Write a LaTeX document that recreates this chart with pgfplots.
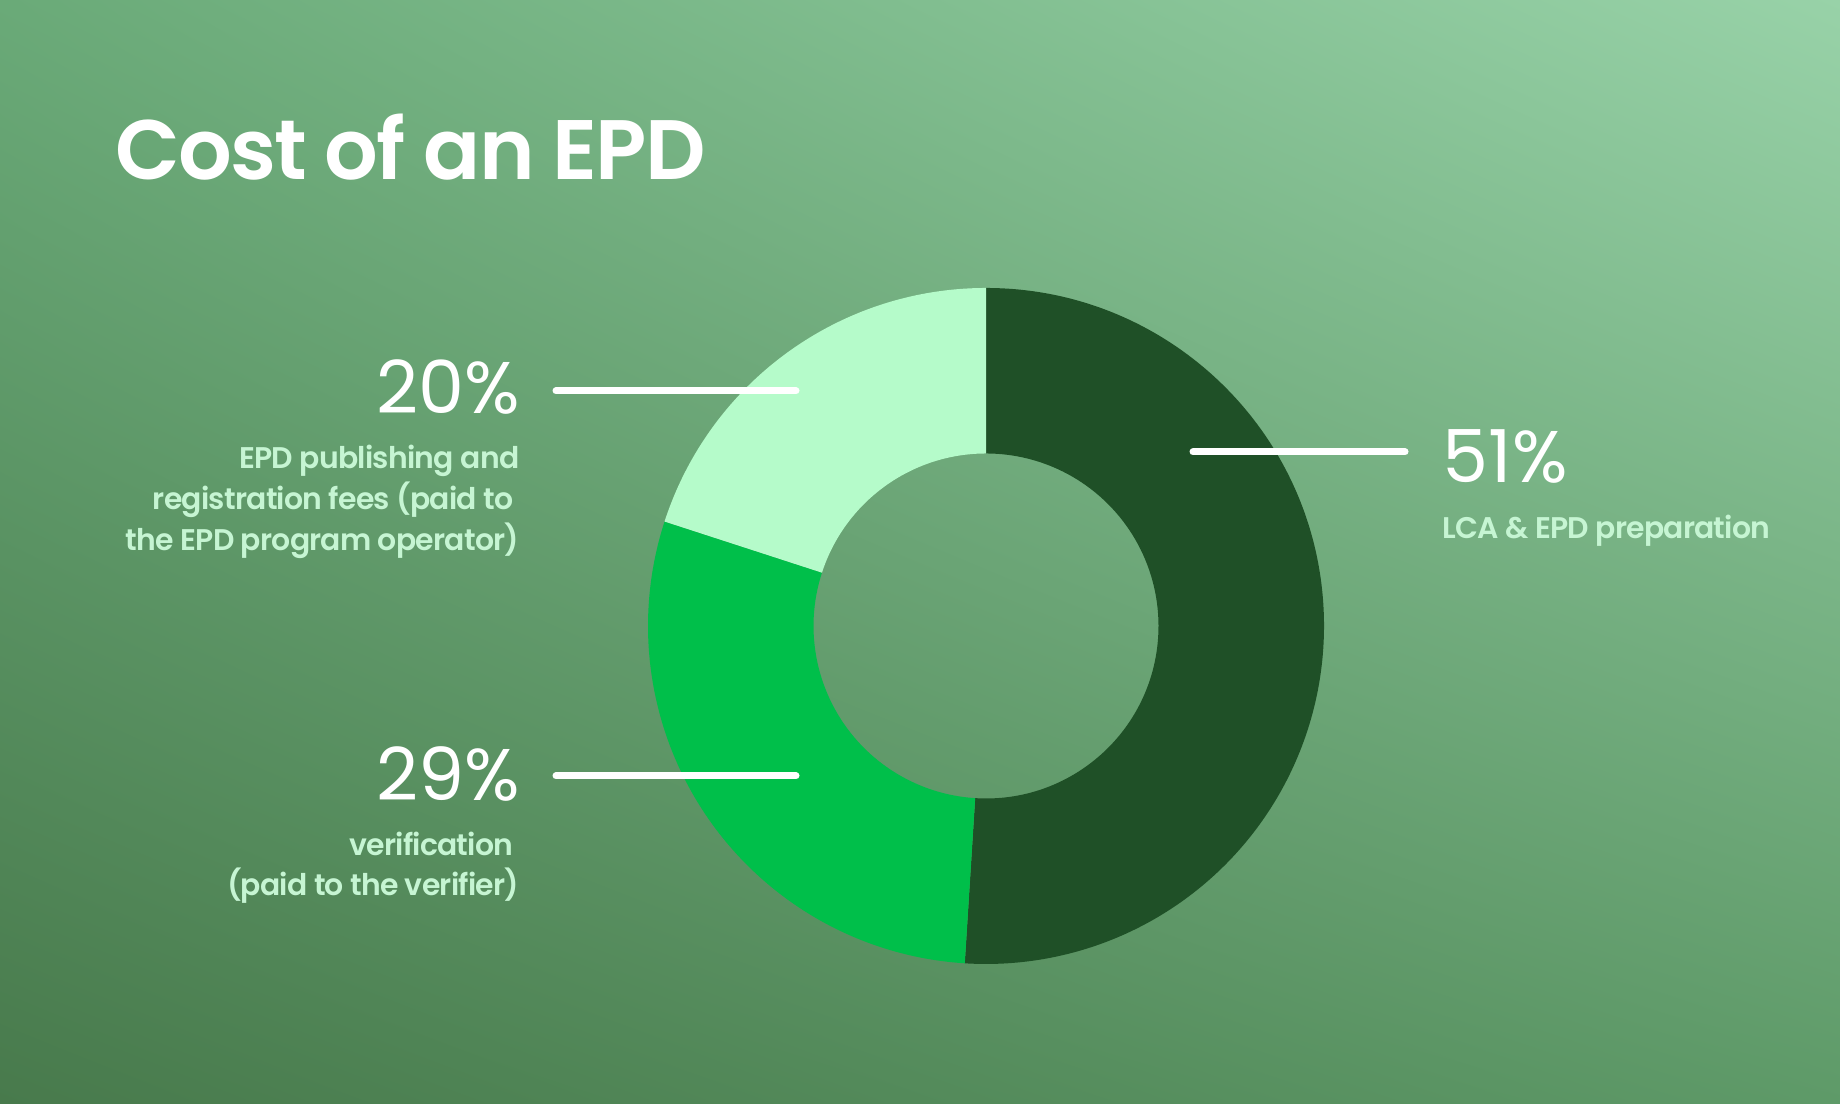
\documentclass[border=0pt]{standalone}
\usepackage{pgfplots}
\pgfplotsset{compat=1.18}
\usepackage{pgfplotstable}
\usetikzlibrary{shadings}
\usepackage{fontspec}
\setmainfont{Poppins}
\newfontfamily\ptitle{Poppins SemiBold}[LetterSpace=-2.4]
\newfontfamily\plabel{Poppins SemiBold}[LetterSpace=-2.5]

\definecolor{bgTL}{HTML}{6AAA78}
\definecolor{bgTR}{HTML}{98D2A8}
\definecolor{bgBL}{HTML}{487A4C}
\definecolor{bgBR}{HTML}{5E9A68}
\definecolor{sliceDark}{HTML}{1F5027}
\definecolor{sliceMid}{HTML}{00BF4A}
\definecolor{sliceLight}{HTML}{B5FBCA}
\definecolor{mint}{HTML}{C6F5D3}

% share of the cost, percent
\pgfplotstableread{
share
51
29
20
}\epdtable

\newcommand\donutslice[3]{%
  \fill[#3] ([shift={(#1:3.38cm)}]ctr) arc[start angle=#1,end angle=#2,radius=3.38cm]
    -- ([shift={(#2:1.725cm)}]ctr) arc[start angle=#2,end angle=#1,radius=1.725cm] -- cycle;}

\begin{document}
\begin{tikzpicture}
\pgfplotstablegetelem{0}{share}\of\epdtable \pgfmathsetmacro\aA{90-3.6*\pgfplotsretval}
\pgfplotstablegetelem{1}{share}\of\epdtable \pgfmathsetmacro\aB{\aA-3.6*\pgfplotsretval}
\pgfplotstablegetelem{2}{share}\of\epdtable \pgfmathsetmacro\aC{\aB-3.6*\pgfplotsretval}
\begin{axis}[
    width=18.4cm, height=11.04cm,
    scale only axis,
    xmin=0, xmax=1840,
    ymin=0, ymax=1104,
    hide axis,
    clip=false,
]
\shade[lower left=bgBL, lower right=bgBR, upper left=bgTL, upper right=bgTR]
    (axis cs:0,0) rectangle (axis cs:1840,1104);

\coordinate (ctr) at (axis cs:986,478);
\donutslice{90}{\aA}{sliceDark}
\donutslice{\aA}{\aB}{sliceMid}
\donutslice{\aB}{\aC}{sliceLight}

% leader lines
\draw[white, line width=0.7mm, line cap=round] (axis cs:556,713) -- (axis cs:796,713);
\draw[white, line width=0.7mm, line cap=round] (axis cs:556,328) -- (axis cs:796,328);
\draw[white, line width=0.7mm, line cap=round] (axis cs:1193,652) -- (axis cs:1405,652);

% title
\node[anchor=base west, inner sep=0pt, text=white, font=\ptitle\fontsize{24.0}{29}\selectfont]
    at (axis cs:115,924) {Cost of an EPD};

% 20 %
\node[anchor=base east, inner sep=0pt, text=white, font=\fontsize{20.8}{25}\selectfont]
    at (axis cs:521,690) {20\%};
\begin{scope}[every node/.style={anchor=base east, inner sep=0pt, text=mint, font=\plabel\fontsize{8.5}{10}\selectfont}]
\node at (axis cs:520,635) {EPD publishing and};
\node at (axis cs:514,594) {registration fees (paid to};
\node at (axis cs:520,553) {the EPD program operator)};
\end{scope}

% 29 %
\node[anchor=base east, inner sep=0pt, text=white, font=\fontsize{20.8}{25}\selectfont]
    at (axis cs:521,303) {29\%};
\begin{scope}[every node/.style={anchor=base east, inner sep=0pt, text=mint, font=\plabel\fontsize{8.5}{10}\selectfont}]
\node at (axis cs:514,248) {verification};
\node at (axis cs:520,208) {(paid to the verifier)};
\end{scope}

% 51 %
\node[anchor=base west, inner sep=0pt, text=white, font=\fontsize{20.8}{25}\selectfont]
    at (axis cs:1442,621) {51\%};
\node[anchor=base west, inner sep=0pt, text=mint, font=\plabel\fontsize{8.5}{10}\selectfont]
    at (axis cs:1442,565) {LCA \& EPD preparation};
\end{axis}
\end{tikzpicture}
\end{document}
